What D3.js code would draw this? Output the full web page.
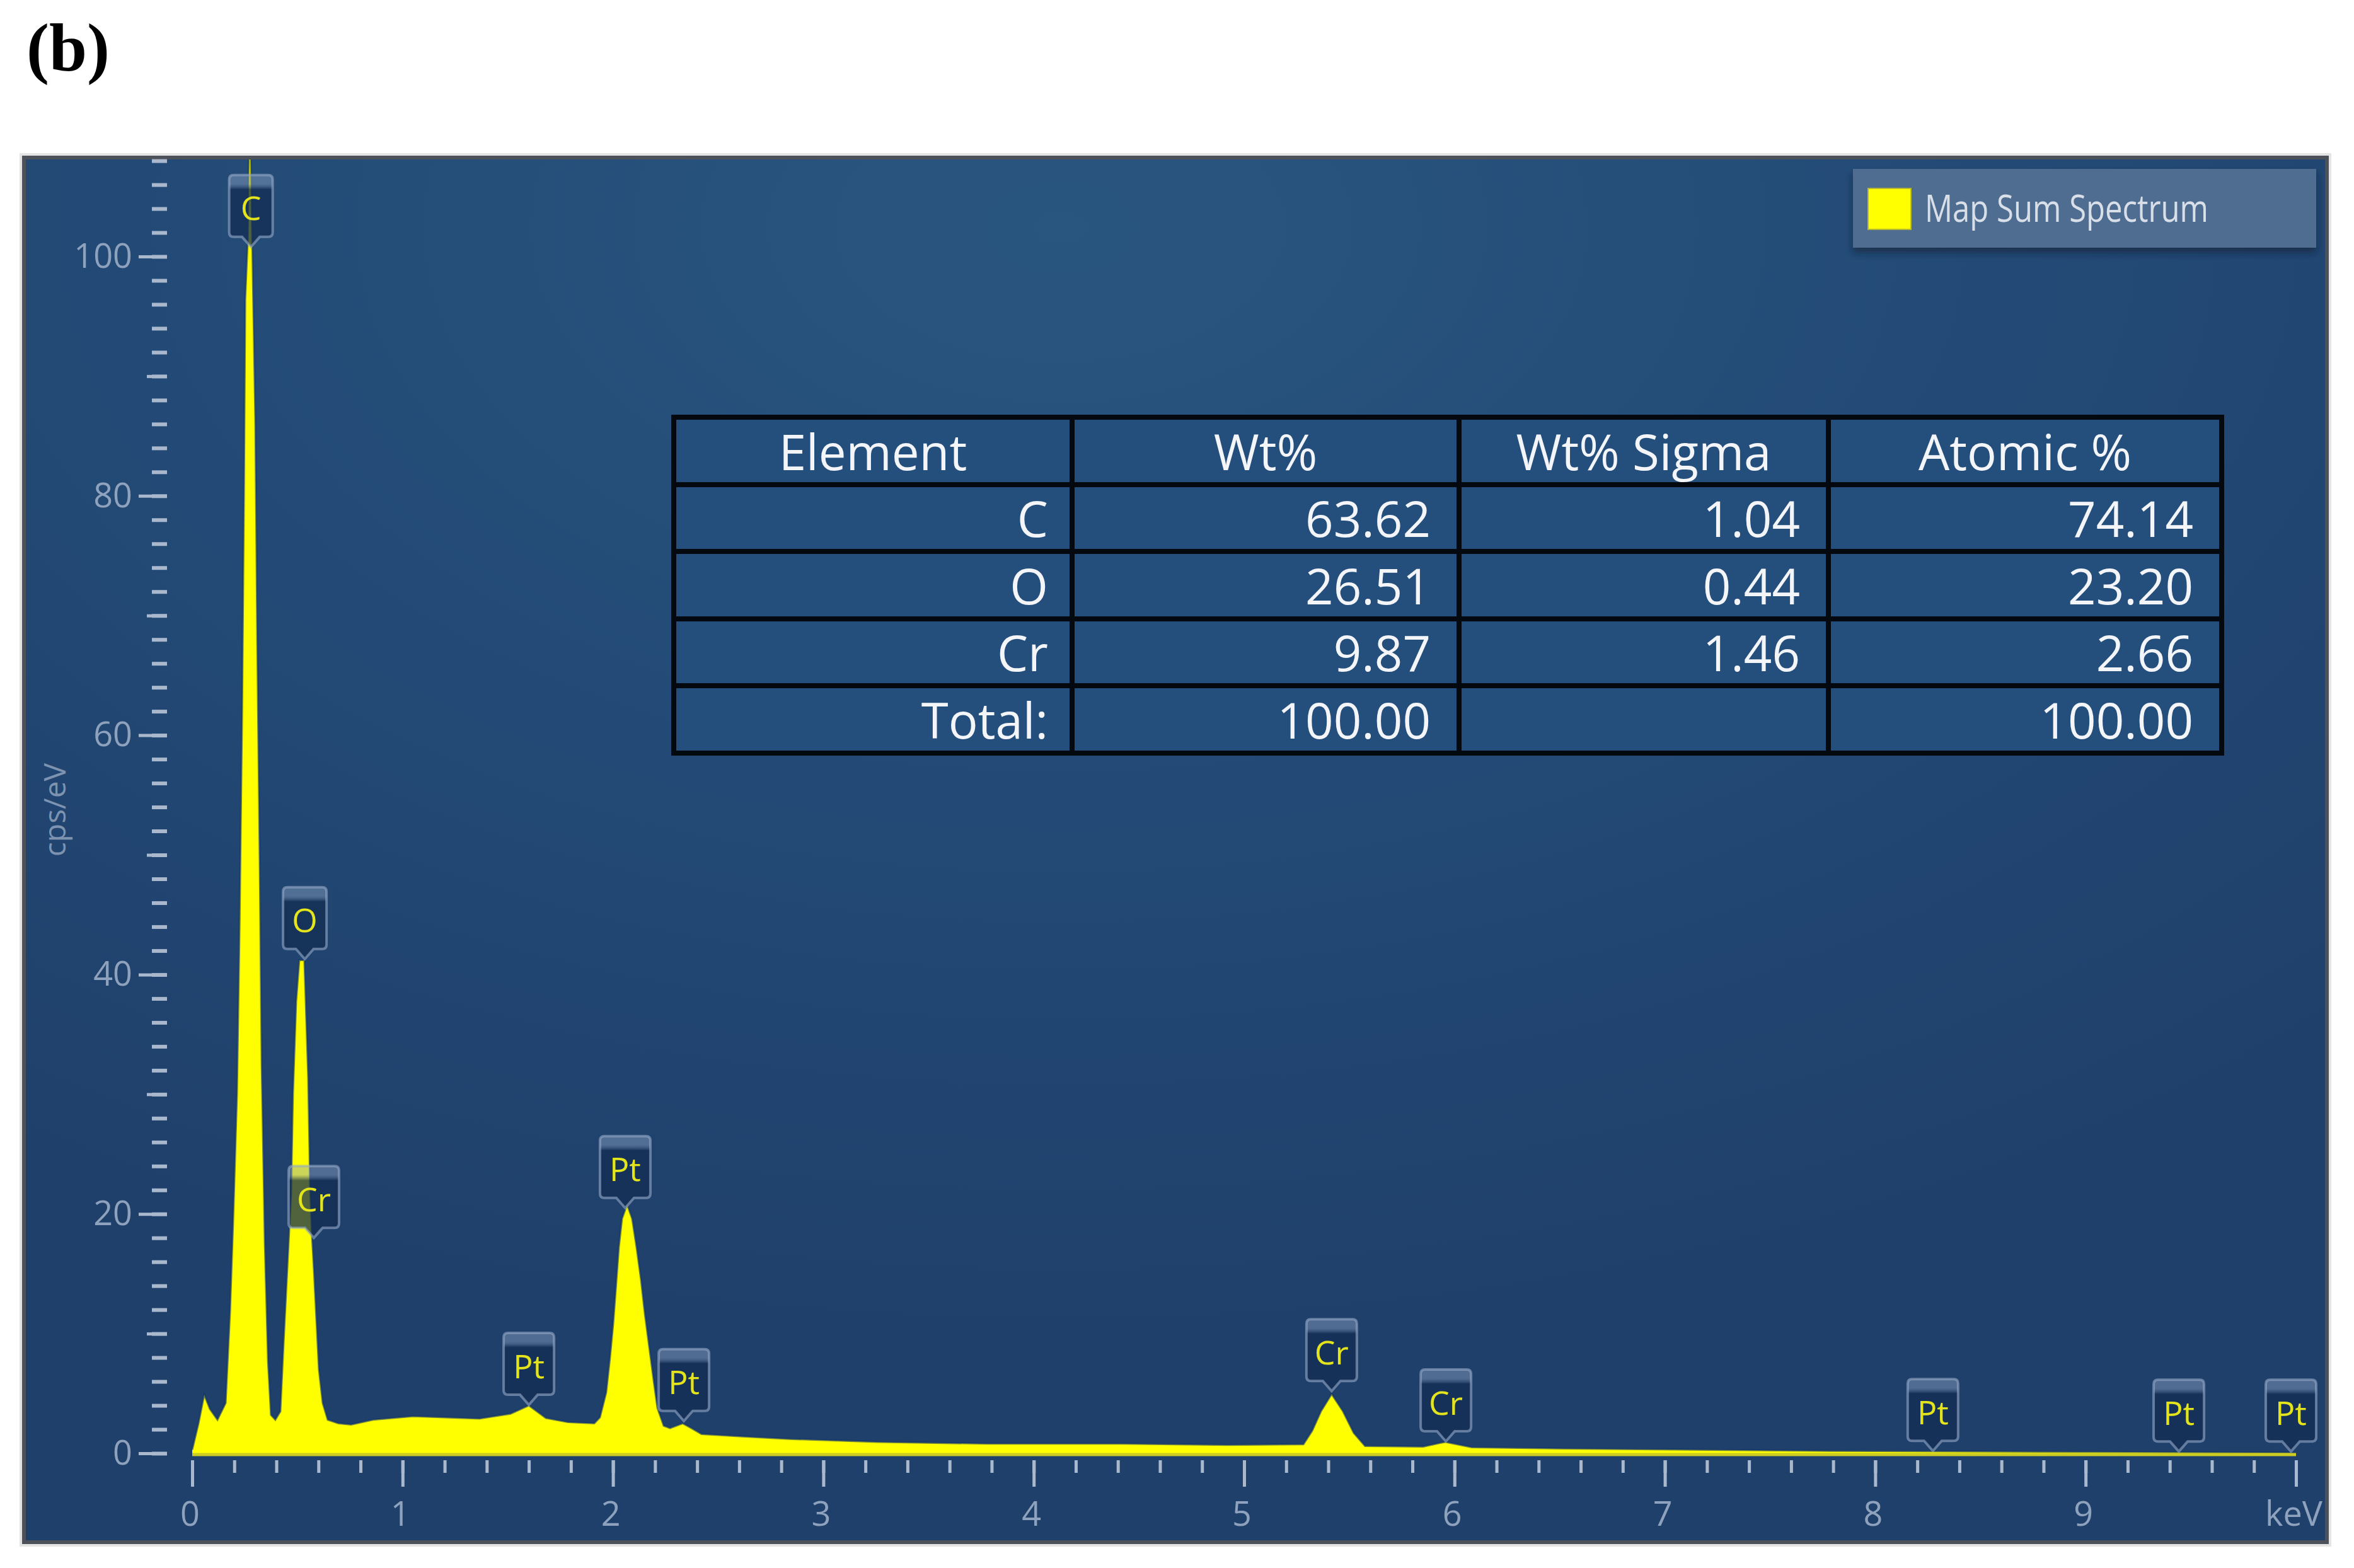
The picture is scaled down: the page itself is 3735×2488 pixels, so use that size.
<!DOCTYPE html>
<html lang="en">
<head>
<meta charset="utf-8" />
<title>EDS Map Sum Spectrum</title>
<script src="https://cdn.jsdelivr.net/npm/d3@7/dist/d3.min.js"></script>
<style>
  body { margin: 0; background: #fff; }
  text { font-family: "Open Sans", sans-serif; }
</style>
</head>
<body>
<script>
// spectrum: energy in keV, counts in cps/eV
var energy = [0.00, 0.03, 0.057, 0.084, 0.12, 0.159, 0.18, 0.195, 0.213, 0.225, 0.237, 0.246, 0.252, 0.264, 0.273,
  0.285, 0.30, 0.309, 0.321, 0.33, 0.345, 0.36, 0.374, 0.395, 0.419, 0.434, 0.452, 0.47, 0.479, 0.494, 0.509,
  0.533, 0.551, 0.56, 0.569, 0.578, 0.59, 0.602, 0.62, 0.644, 0.695, 0.755, 0.86, 1.049, 1.366, 1.513, 1.60,
  1.681, 1.786, 1.911, 1.938, 1.968, 1.986, 2.001, 2.013, 2.028, 2.043, 2.067, 2.091, 2.112, 2.133, 2.151,
  2.172, 2.193, 2.211, 2.241, 2.271, 2.301, 2.331, 2.373, 2.421, 2.624, 2.837, 3.256, 3.781, 4.42, 4.92,
  5.282, 5.324, 5.365, 5.416, 5.47, 5.521, 5.575, 5.851, 5.956, 6.082, 6.522, 7.783, 9.044, 9.97]
var counts = [0.3, 2.5, 4.9, 3.7, 2.8, 4.2, 11.9, 19.6, 30.1, 44, 61.5, 80, 96.4, 101.3, 115,
  101.3, 86, 67.8, 48.9, 32.5, 17.5, 7.7, 3.2, 2.8, 3.5, 9.1, 15.4, 21.7, 30.1, 37.7, 41.2,
  41.2, 31.4, 22.4, 18.2, 15.4, 11.2, 7.0, 4.2, 2.8, 2.5, 2.4, 2.8, 3.1, 2.9, 3.3, 4.0,
  2.95, 2.6, 2.5, 3.0, 5.1, 8.0, 10.8, 13.6, 17.2, 19.6, 20.8, 19.6, 17.2, 14.5, 11.7,
  8.9, 6.1, 3.8, 2.3, 2.1, 2.3, 2.5, 2.1, 1.6, 1.4, 1.2, 0.95, 0.8, 0.8, 0.7,
  0.75, 1.9, 3.5, 4.95, 3.5, 1.7, 0.6, 0.55, 0.95, 0.5, 0.4, 0.2, 0.12, 0.05]

// peak markers: element, energy of the marker tip, height of the tip
var peakNames = ["C", "O", "Cr", "Pt", "Pt", "Pt", "Cr", "Cr", "Pt", "Pt", "Pt"]
var peakEnergy = [0.279, 0.535, 0.578, 1.60, 2.058, 2.337, 5.416, 5.959, 8.274, 9.443, 9.976]
var peakTip = [100.8, 41.3, 18.0, 4.05, 20.5, 2.7, 5.2, 1.0, 0.2, 0.15, 0.15]

var xTickValues = [0, 1, 2, 3, 4, 5, 6, 7, 8, 9, 10]
var yTickValues = [0, 20, 40, 60, 80, 100]

// quantification table
var tableHeader = ["Element", "Wt%", "Wt% Sigma", "Atomic %"]
var tableElement = ["C", "O", "Cr", "Total:"]
var tableWt = ["63.62", "26.51", "9.87", "100.00"]
var tableSigma = ["1.04", "0.44", "1.46", ""]
var tableAtomic = ["74.14", "23.20", "2.66", "100.00"]

var legendLabel = "Map Sum Spectrum"

var W = 3735, H = 2488
var panel = {x: 38, y: 250, w: 3654, h: 2197}

var svg = d3.select("body").append("svg")
  .attr("width", W)
  .attr("height", H)

var defs = svg.append("defs")

var bg = defs.append("radialGradient").attr("id", "bgGrad")
  .attr("cx", 0.45).attr("cy", 0.05).attr("r", 0.8)
bg.append("stop").attr("offset", 0).attr("stop-color", "#29567f")
bg.append("stop").attr("offset", 0.5).attr("stop-color", "#234a76")
bg.append("stop").attr("offset", 1).attr("stop-color", "#1f406b")

var lg = defs.append("linearGradient").attr("id", "lblGrad")
  .attr("x1", 0).attr("y1", 0).attr("x2", 0).attr("y2", 1)
lg.append("stop").attr("offset", 0).attr("stop-color", "rgba(140,162,194,0.45)")
lg.append("stop").attr("offset", 0.12).attr("stop-color", "rgba(140,162,194,0.45)")
lg.append("stop").attr("offset", 0.2).attr("stop-color", "rgba(18,44,82,0.74)")
lg.append("stop").attr("offset", 1).attr("stop-color", "rgba(18,44,82,0.74)")

var shadow = defs.append("filter").attr("id", "shadow")
  .attr("x", "-5%").attr("y", "-20%").attr("width", "110%").attr("height", "150%")
shadow.append("feDropShadow").attr("dx", 0).attr("dy", 8).attr("stdDeviation", 6)
  .attr("flood-color", "#0a1a33").attr("flood-opacity", 0.6)

defs.append("clipPath").attr("id", "plotClip")
  .append("rect")
  .attr("x", panel.x + 3).attr("y", panel.y + 3)
  .attr("width", panel.w - 6).attr("height", 2306 - panel.y)

// "(b)" panel tag
svg.append("text")
  .attr("x", 42).attr("y", 112)
  .style("font-family", "'Liberation Serif', serif")
  .style("font-weight", "bold")
  .style("font-size", "108px")
  .attr("fill", "#000")
  .text("(b)")

// panel
svg.append("rect")
  .attr("x", panel.x - 4).attr("y", panel.y - 4)
  .attr("width", panel.w + 8).attr("height", panel.h + 8)
  .attr("fill", "none").attr("stroke", "#e4e4e4").attr("stroke-width", 6)
svg.append("rect")
  .attr("x", panel.x).attr("y", panel.y)
  .attr("width", panel.w).attr("height", panel.h)
  .attr("fill", "url(#bgGrad)")
  .attr("stroke", "#4d525a").attr("stroke-width", 6)

var xScale = d3.scaleLinear().domain([0, 10]).range([305, 3643])
var yScale = d3.scaleLinear().domain([0, 100]).range([2306, 407])

var spectrum = energy.map(function(e, i) { return {e: e, v: counts[i]} })

var plot = svg.append("g").attr("clip-path", "url(#plotClip)")

plot.append("path")
  .datum(spectrum)
  .attr("fill", "#ffff00")
  .attr("d", d3.area()
    .x(function(d) { return xScale(d.e) })
    .y0(yScale(0))
    .y1(function(d) { return yScale(d.v) }))

plot.append("path")
  .datum(spectrum)
  .attr("fill", "none")
  .attr("stroke", "#12336a")
  .attr("stroke-opacity", 0.6)
  .attr("stroke-width", 3)
  .attr("d", d3.line()
    .x(function(d) { return xScale(d.e) })
    .y(function(d) { return yScale(d.v) }))

// baseline of the spectrum
svg.append("line")
  .attr("x1", xScale(0)).attr("x2", xScale(10))
  .attr("y1", yScale(0) + 2).attr("y2", yScale(0) + 2)
  .attr("stroke", "#cccc22").attr("stroke-width", 5)

// x axis: minor ticks every 0.2 keV, major ticks with labels
var tickColor = "#a9b8cd"
var labelColor = "#8ea2bd"

var xMinor = svg.append("g")
  .attr("transform", "translate(0,2317)")
  .call(d3.axisBottom(xScale).tickValues(d3.range(0, 10.001, 0.2)).tickSize(20).tickFormat(""))
var xMajor = svg.append("g")
  .attr("transform", "translate(0,2317)")
  .call(d3.axisBottom(xScale).tickValues(xTickValues).tickSize(42).tickPadding(24)
    .tickFormat(function(d) { return d === 10 ? "keV" : d }))

// y axis: minor every 2, medium every 10, major every 20 with labels
var yMinor = svg.append("g")
  .attr("transform", "translate(265,0)")
  .call(d3.axisLeft(yScale).tickValues(d3.range(0, 109, 2)).tickSize(24).tickFormat(""))
var yMid = svg.append("g")
  .attr("transform", "translate(265,0)")
  .call(d3.axisLeft(yScale).tickValues(d3.range(10, 100, 20)).tickSize(32).tickFormat(""))
var yMajor = svg.append("g")
  .attr("transform", "translate(265,0)")
  .call(d3.axisLeft(yScale).tickValues(yTickValues).tickSize(45).tickPadding(10))

;[xMinor, xMajor, yMinor, yMid, yMajor].forEach(function(ax) {
  ax.select(".domain").remove()
  ax.selectAll(".tick line").attr("stroke", tickColor).attr("stroke-width", 5)
  ax.selectAll(".tick text")
    .attr("fill", labelColor)
    .style("font-family", "'Open Sans', sans-serif")
    .style("font-size", "54px")
})
yMinor.selectAll(".tick line").attr("stroke-width", 6)
xMajor.selectAll(".tick text").attr("dx", -4)

svg.append("text")
  .attr("transform", "translate(104,1285) rotate(-90)")
  .attr("text-anchor", "middle")
  .attr("fill", "#7d93b0")
  .style("font-size", "48px")
  .text("cps/eV")

// peak markers
function calloutPath(cx, tipY, w) {
  var h = 98, ph = 16, pw = 14, r = 7
  var bottom = tipY - ph, top = bottom - h
  var left = cx - w / 2, right = cx + w / 2
  return "M" + (left + r) + "," + top +
    "H" + (right - r) + "Q" + right + "," + top + " " + right + "," + (top + r) +
    "V" + (bottom - r) + "Q" + right + "," + bottom + " " + (right - r) + "," + bottom +
    "H" + (cx + pw) + "L" + cx + "," + tipY + "L" + (cx - pw) + "," + bottom +
    "H" + (left + r) + "Q" + left + "," + bottom + " " + left + "," + (bottom - r) +
    "V" + (top + r) + "Q" + left + "," + top + " " + (left + r) + "," + top + "Z"
}

var markers = svg.selectAll(".marker")
  .data(peakNames.map(function(n, i) { return {name: n, e: peakEnergy[i], v: peakTip[i]} }))
  .enter().append("g").attr("class", "marker")

markers.append("path")
  .attr("d", function(d) {
    return calloutPath(xScale(d.e), yScale(d.v), d.name.length === 1 ? 69 : 80)
  })
  .attr("fill", "url(#lblGrad)")
  .attr("stroke", "rgba(150,170,200,0.6)")
  .attr("stroke-width", 4)

markers.append("text")
  .attr("x", function(d) { return xScale(d.e) })
  .attr("y", function(d) { return yScale(d.v) - 16 - 47 })
  .attr("text-anchor", "middle")
  .attr("dominant-baseline", "central")
  .attr("fill", "#e4e41c")
  .style("font-size", "52px")
  .text(function(d) { return d.name })

// legend
var legend = svg.append("g")
legend.append("rect")
  .attr("x", 2940).attr("y", 268).attr("width", 735).attr("height", 125)
  .attr("fill", "#4f6d90")
  .attr("filter", "url(#shadow)")
legend.append("rect")
  .attr("x", 2964).attr("y", 299).attr("width", 68).attr("height", 65)
  .attr("fill", "#ffff00").attr("stroke", "#b8b830").attr("stroke-width", 2)
legend.append("text")
  .attr("x", 3054).attr("y", 352)
  .attr("fill", "#d8dfe9")
  .style("font-size", "60px")
  .attr("textLength", 450)
  .attr("lengthAdjust", "spacingAndGlyphs")
  .text(legendLabel)

// quantification table
var colEdges = [1069, 1701, 2315, 2901, 3525]
var rowEdges = [662, 769, 875, 982, 1088, 1195]
var rows = [tableHeader].concat(tableElement.map(function(el, i) {
  return [el, tableWt[i], tableSigma[i], tableAtomic[i]]
}))

var table = svg.append("g")
table.append("rect")
  .attr("x", colEdges[0]).attr("y", rowEdges[0])
  .attr("width", colEdges[4] - colEdges[0]).attr("height", rowEdges[5] - rowEdges[0])
  .attr("fill", "#244f7c")

rows.forEach(function(row, r) {
  row.forEach(function(cell, c) {
    var header = r === 0
    table.append("text")
      .attr("x", header ? (colEdges[c] + colEdges[c + 1]) / 2 : colEdges[c + 1] - (c === 0 ? 38 : 45))
      .attr("y", (rowEdges[r] + rowEdges[r + 1]) / 2)
      .attr("text-anchor", header ? "middle" : "end")
      .attr("dominant-baseline", "central")
      .attr("fill", "#f3f5f9")
      .style("font-size", "78px")
      .text(cell)
  })
})

table.selectAll(".hline")
  .data(rowEdges).enter().append("line")
  .attr("x1", colEdges[0] - 4).attr("x2", colEdges[4] + 4)
  .attr("y1", function(d) { return d }).attr("y2", function(d) { return d })
  .attr("stroke", "#04080f").attr("stroke-width", 8)
table.selectAll(".vline")
  .data(colEdges).enter().append("line")
  .attr("x1", function(d) { return d }).attr("x2", function(d) { return d })
  .attr("y1", rowEdges[0] - 4).attr("y2", rowEdges[5] + 4)
  .attr("stroke", "#04080f").attr("stroke-width", 8)
</script>
</body>
</html>
